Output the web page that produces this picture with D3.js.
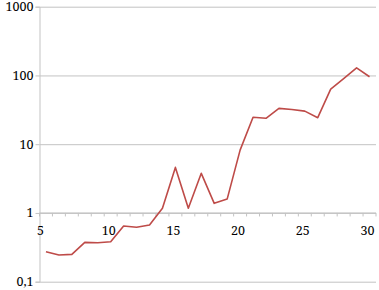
<!DOCTYPE html>
<html>
<head>
<meta charset="utf-8">
<script src="https://cdn.jsdelivr.net/npm/d3@7"></script>
<style>
html,body{margin:0;padding:0;background:#fff;}
svg{display:block;}
</style>
</head>
<body>
<svg id="chart" width="379" height="290"></svg>
<script>
const categories = [5,6,7,8,9,10,11,12,13,14,15,16,17,18,19,20,21,22,23,24,25,26,27,28,29,30];
const values = [0.273,0.244,0.25,0.373,0.368,0.381,0.645,0.618,0.667,1.17,4.6,1.17,3.77,1.38,1.59,8.2,24.6,23.8,33.2,31.9,30.3,24.3,63.4,90.2,129,95.7];
const yTicks = [0.1,1,10,100,1000];
const yTickLabels = ["0,1","1","10","100","1000"];
const xLabelCats = [5,10,15,20,25,30];

(function () {
const FONT = "'Noto Serif', 'DejaVu Serif', serif";
const FS = "12.5px";
const svg = d3.select("#chart");
const pLeft = 39.5, pRight = 376, pTop = 6.7, pBottom = 281.7;

const x = d3.scaleBand().domain(categories).range([pLeft, pRight]).padding(0);
const y = d3.scaleLog().domain([0.1, 1000]).range([pBottom, pTop]);
const xc = d => x(d) + x.bandwidth() / 2;

// gridlines
const gridAxis = d3.axisLeft(y).tickValues(yTicks).tickSize(-(pRight - pLeft)).tickFormat("");
const g = svg.append("g").attr("transform", `translate(${pLeft},0)`).call(gridAxis);
g.select(".domain").remove();
g.selectAll(".tick line").attr("stroke", "#c3c3c3").attr("stroke-width", 1);
// y axis with small tick stubs and labels
const stubAxis = d3.axisLeft(y).tickValues(yTicks).tickSize(4)
  .tickFormat((d, i) => yTickLabels[i]).tickPadding(2);
const s = svg.append("g").attr("transform", `translate(${pLeft},0)`).call(stubAxis);
s.attr("font-family", FONT).attr("font-size", 12.5);
s.select(".domain").attr("stroke", "#c3c3c3");
s.selectAll(".tick line").attr("stroke", "#c3c3c3");
s.selectAll(".tick text").attr("fill", "#000").style("font-family", FONT).style("font-size", FS);

// x axis at y = 1
const y1 = y(1);
const bounds = categories.map(c => x(c)).concat([pRight]);
svg.append("g").selectAll("line").data(bounds).join("line")
  .attr("x1", d => d).attr("x2", d => d)
  .attr("y1", y1).attr("y2", y1 + 3.5)
  .attr("stroke", "#c3c3c3");
svg.append("line").attr("x1", pLeft).attr("x2", pRight).attr("y1", y1).attr("y2", y1)
  .attr("stroke", "#c3c3c3");
svg.append("g").selectAll("text").data(xLabelCats).join("text")
  .attr("x", d => xc(d) - 9).attr("y", y1 + 22.5)
  .attr("text-anchor", "start")
  .style("font-family", FONT).style("font-size", FS).attr("fill", "#000")
  .text(d => d);

// line
const line = d3.line().x((d, i) => xc(categories[i])).y(d => y(d));
svg.append("path").datum(values).attr("d", line)
  .attr("fill", "none").attr("stroke", "#be4b48").attr("stroke-width", 1.6)
  .attr("stroke-linejoin", "round");
})();
</script>
</body>
</html>
